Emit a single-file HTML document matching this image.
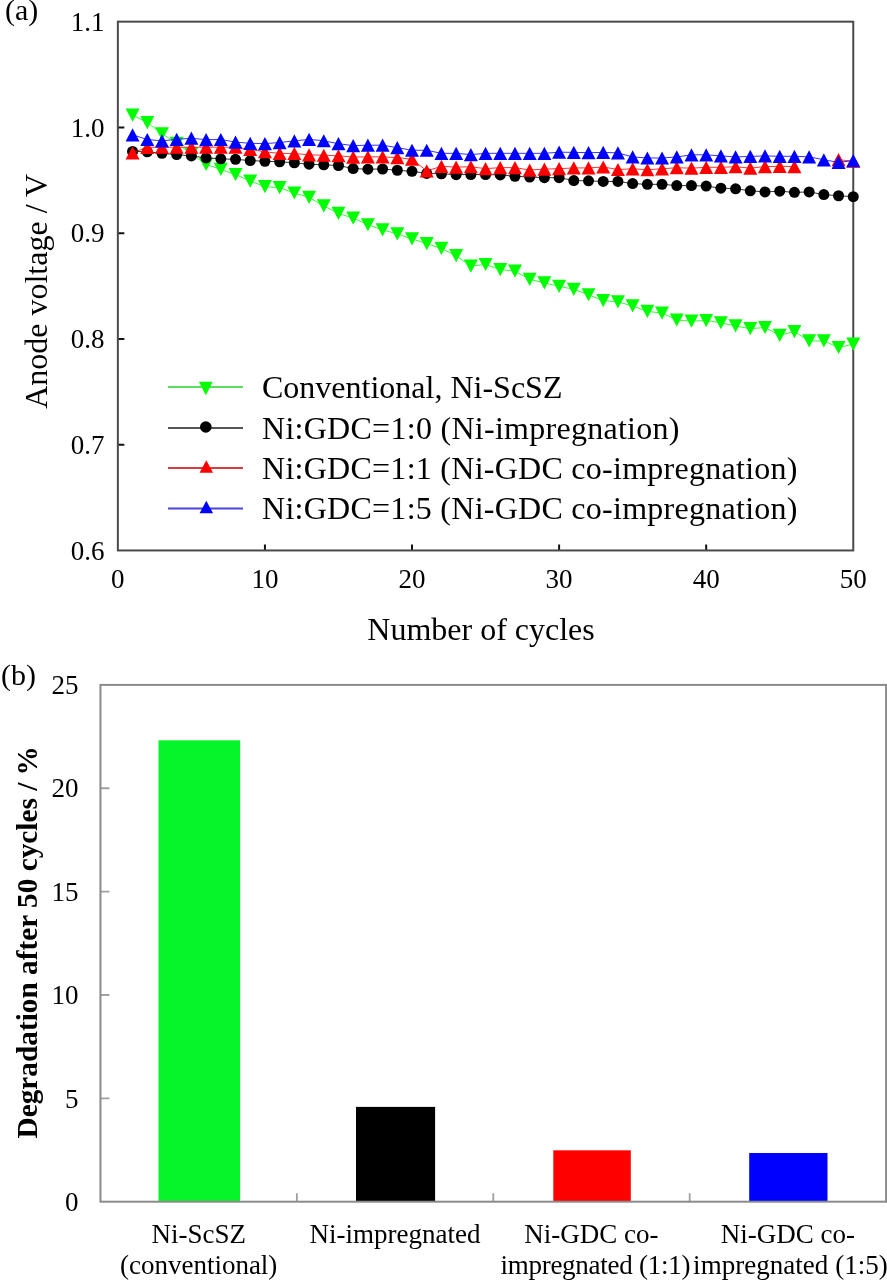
<!DOCTYPE html>
<html><head><meta charset="utf-8"><style>
html,body{margin:0;padding:0;background:#fff;width:887px;height:1280px;overflow:hidden;}
svg{display:block;font-family:"Liberation Serif",serif;will-change:transform;}
</style></head><body>
<svg width="887" height="1280" viewBox="0 0 887 1280">
<rect width="887" height="1280" fill="#fff"/>
<g font-family="Liberation Serif" fill="#000">
<text x="5" y="19.5" font-size="30">(a)</text>
<text x="104.5" y="30.87" font-size="27" text-anchor="end">1.1</text>
<text x="104.5" y="136.63" font-size="27" text-anchor="end">1.0</text>
<text x="104.5" y="242.39" font-size="27" text-anchor="end">0.9</text>
<text x="104.5" y="348.14" font-size="27" text-anchor="end">0.8</text>
<text x="104.5" y="453.90" font-size="27" text-anchor="end">0.7</text>
<text x="104.5" y="559.66" font-size="27" text-anchor="end">0.6</text>
<text x="117.85" y="587.5" font-size="27" text-anchor="middle">0</text>
<text x="264.93" y="587.5" font-size="27" text-anchor="middle">10</text>
<text x="412.01" y="587.5" font-size="27" text-anchor="middle">20</text>
<text x="559.10" y="587.5" font-size="27" text-anchor="middle">30</text>
<text x="706.18" y="587.5" font-size="27" text-anchor="middle">40</text>
<text x="853.26" y="587.5" font-size="27" text-anchor="middle">50</text>
<text x="481" y="639.7" font-size="32" text-anchor="middle">Number of cycles</text>
<text transform="translate(47 291.4) rotate(-90)" font-size="32" text-anchor="middle">Anode voltage / V</text>
</g>
<path d="M117.85 127.43h6.5M117.85 233.19h6.5M117.85 338.94h6.5M117.85 444.70h6.5M264.93 550.46v-6M412.01 550.46v-6M559.10 550.46v-6M706.18 550.46v-6" stroke="#111" stroke-width="2" fill="none"/>
<rect x="117.85" y="21.67" width="735.41" height="528.79" fill="none" stroke="#4a4a4a" stroke-width="2"/>
<polyline points="132.56,115.05 147.27,122.56 161.97,133.77 176.68,143.29 191.39,153.87 206.10,164.44 220.81,169.41 235.52,174.49 250.22,181.05 264.93,186.65 279.64,187.71 294.35,193.00 309.06,197.44 323.76,205.90 338.47,213.41 353.18,218.17 367.89,224.73 382.60,229.80 397.31,233.93 412.01,238.90 426.72,243.66 441.43,248.42 456.14,255.71 470.85,266.08 485.55,264.49 500.26,269.57 514.97,271.15 529.68,279.30 544.39,282.89 559.10,286.28 573.80,289.34 588.51,294.74 603.22,300.66 617.93,301.82 632.64,305.95 647.35,311.45 662.05,313.03 676.76,320.01 691.47,321.18 706.18,320.54 720.89,322.76 735.59,325.94 750.30,328.69 765.01,327.52 779.72,335.35 794.43,331.54 809.14,340.95 823.84,340.95 838.55,347.51 853.26,344.13" fill="none" stroke="#00ff00" stroke-width="0.8"/><path d="M125.56 108.45L132.56 121.65L139.56 108.45ZM140.27 115.96L147.27 129.16L154.27 115.96ZM154.97 127.17L161.97 140.37L168.97 127.17ZM169.68 136.69L176.68 149.89L183.68 136.69ZM184.39 147.27L191.39 160.47L198.39 147.27ZM199.10 157.84L206.10 171.04L213.10 157.84ZM213.81 162.81L220.81 176.01L227.81 162.81ZM228.52 167.89L235.52 181.09L242.52 167.89ZM243.22 174.45L250.22 187.65L257.22 174.45ZM257.93 180.05L264.93 193.25L271.93 180.05ZM272.64 181.11L279.64 194.31L286.64 181.11ZM287.35 186.40L294.35 199.60L301.35 186.40ZM302.06 190.84L309.06 204.04L316.06 190.84ZM316.76 199.30L323.76 212.50L330.76 199.30ZM331.47 206.81L338.47 220.01L345.47 206.81ZM346.18 211.57L353.18 224.77L360.18 211.57ZM360.89 218.13L367.89 231.33L374.89 218.13ZM375.60 223.20L382.60 236.40L389.60 223.20ZM390.31 227.33L397.31 240.53L404.31 227.33ZM405.01 232.30L412.01 245.50L419.01 232.30ZM419.72 237.06L426.72 250.26L433.72 237.06ZM434.43 241.82L441.43 255.02L448.43 241.82ZM449.14 249.11L456.14 262.31L463.14 249.11ZM463.85 259.48L470.85 272.68L477.85 259.48ZM478.55 257.89L485.55 271.09L492.55 257.89ZM493.26 262.97L500.26 276.17L507.26 262.97ZM507.97 264.55L514.97 277.75L521.97 264.55ZM522.68 272.70L529.68 285.90L536.68 272.70ZM537.39 276.29L544.39 289.49L551.39 276.29ZM552.10 279.68L559.10 292.88L566.10 279.68ZM566.80 282.74L573.80 295.94L580.80 282.74ZM581.51 288.14L588.51 301.34L595.51 288.14ZM596.22 294.06L603.22 307.26L610.22 294.06ZM610.93 295.22L617.93 308.42L624.93 295.22ZM625.64 299.35L632.64 312.55L639.64 299.35ZM640.35 304.85L647.35 318.05L654.35 304.85ZM655.05 306.43L662.05 319.63L669.05 306.43ZM669.76 313.41L676.76 326.61L683.76 313.41ZM684.47 314.58L691.47 327.78L698.47 314.58ZM699.18 313.94L706.18 327.14L713.18 313.94ZM713.89 316.16L720.89 329.36L727.89 316.16ZM728.59 319.34L735.59 332.54L742.59 319.34ZM743.30 322.09L750.30 335.29L757.30 322.09ZM758.01 320.92L765.01 334.12L772.01 320.92ZM772.72 328.75L779.72 341.95L786.72 328.75ZM787.43 324.94L794.43 338.14L801.43 324.94ZM802.14 334.35L809.14 347.55L816.14 334.35ZM816.84 334.35L823.84 347.55L830.84 334.35ZM831.55 340.91L838.55 354.11L845.55 340.91ZM846.26 337.53L853.26 350.73L860.26 337.53Z" fill="#00ff00"/>
<polyline points="132.56,151.44 147.27,151.75 161.97,153.34 176.68,154.61 191.39,155.98 206.10,157.89 220.81,158.84 235.52,159.37 250.22,160.53 264.93,161.27 279.64,161.80 294.35,162.75 309.06,164.23 323.76,164.87 338.47,165.50 353.18,168.57 367.89,169.20 382.60,168.99 397.31,170.26 412.01,171.32 426.72,173.43 441.43,173.75 456.14,174.70 470.85,174.49 485.55,174.49 500.26,174.91 514.97,176.29 529.68,177.03 544.39,177.66 559.10,177.66 573.80,180.52 588.51,180.84 603.22,181.47 617.93,181.47 632.64,183.59 647.35,184.33 662.05,184.33 676.76,185.59 691.47,185.59 706.18,186.12 720.89,188.13 735.59,188.77 750.30,190.78 765.01,191.94 779.72,191.20 794.43,192.36 809.14,191.94 823.84,194.58 838.55,195.75 853.26,196.70" fill="none" stroke="#000000" stroke-width="0.8"/><circle cx="132.56" cy="151.44" r="5.5" fill="#000000"/><circle cx="147.27" cy="151.75" r="5.5" fill="#000000"/><circle cx="161.97" cy="153.34" r="5.5" fill="#000000"/><circle cx="176.68" cy="154.61" r="5.5" fill="#000000"/><circle cx="191.39" cy="155.98" r="5.5" fill="#000000"/><circle cx="206.10" cy="157.89" r="5.5" fill="#000000"/><circle cx="220.81" cy="158.84" r="5.5" fill="#000000"/><circle cx="235.52" cy="159.37" r="5.5" fill="#000000"/><circle cx="250.22" cy="160.53" r="5.5" fill="#000000"/><circle cx="264.93" cy="161.27" r="5.5" fill="#000000"/><circle cx="279.64" cy="161.80" r="5.5" fill="#000000"/><circle cx="294.35" cy="162.75" r="5.5" fill="#000000"/><circle cx="309.06" cy="164.23" r="5.5" fill="#000000"/><circle cx="323.76" cy="164.87" r="5.5" fill="#000000"/><circle cx="338.47" cy="165.50" r="5.5" fill="#000000"/><circle cx="353.18" cy="168.57" r="5.5" fill="#000000"/><circle cx="367.89" cy="169.20" r="5.5" fill="#000000"/><circle cx="382.60" cy="168.99" r="5.5" fill="#000000"/><circle cx="397.31" cy="170.26" r="5.5" fill="#000000"/><circle cx="412.01" cy="171.32" r="5.5" fill="#000000"/><circle cx="426.72" cy="173.43" r="5.5" fill="#000000"/><circle cx="441.43" cy="173.75" r="5.5" fill="#000000"/><circle cx="456.14" cy="174.70" r="5.5" fill="#000000"/><circle cx="470.85" cy="174.49" r="5.5" fill="#000000"/><circle cx="485.55" cy="174.49" r="5.5" fill="#000000"/><circle cx="500.26" cy="174.91" r="5.5" fill="#000000"/><circle cx="514.97" cy="176.29" r="5.5" fill="#000000"/><circle cx="529.68" cy="177.03" r="5.5" fill="#000000"/><circle cx="544.39" cy="177.66" r="5.5" fill="#000000"/><circle cx="559.10" cy="177.66" r="5.5" fill="#000000"/><circle cx="573.80" cy="180.52" r="5.5" fill="#000000"/><circle cx="588.51" cy="180.84" r="5.5" fill="#000000"/><circle cx="603.22" cy="181.47" r="5.5" fill="#000000"/><circle cx="617.93" cy="181.47" r="5.5" fill="#000000"/><circle cx="632.64" cy="183.59" r="5.5" fill="#000000"/><circle cx="647.35" cy="184.33" r="5.5" fill="#000000"/><circle cx="662.05" cy="184.33" r="5.5" fill="#000000"/><circle cx="676.76" cy="185.59" r="5.5" fill="#000000"/><circle cx="691.47" cy="185.59" r="5.5" fill="#000000"/><circle cx="706.18" cy="186.12" r="5.5" fill="#000000"/><circle cx="720.89" cy="188.13" r="5.5" fill="#000000"/><circle cx="735.59" cy="188.77" r="5.5" fill="#000000"/><circle cx="750.30" cy="190.78" r="5.5" fill="#000000"/><circle cx="765.01" cy="191.94" r="5.5" fill="#000000"/><circle cx="779.72" cy="191.20" r="5.5" fill="#000000"/><circle cx="794.43" cy="192.36" r="5.5" fill="#000000"/><circle cx="809.14" cy="191.94" r="5.5" fill="#000000"/><circle cx="823.84" cy="194.58" r="5.5" fill="#000000"/><circle cx="838.55" cy="195.75" r="5.5" fill="#000000"/><circle cx="853.26" cy="196.70" r="5.5" fill="#000000"/>
<polyline points="132.56,152.81 147.27,147.31 161.97,147.20 176.68,147.20 191.39,147.20 206.10,147.20 220.81,147.20 235.52,147.20 250.22,149.43 264.93,151.75 279.64,153.44 294.35,153.44 309.06,154.82 323.76,155.24 338.47,155.77 353.18,157.04 367.89,156.83 382.60,156.83 397.31,157.67 412.01,159.16 426.72,170.89 441.43,166.35 456.14,167.09 470.85,166.77 485.55,168.67 500.26,167.62 514.97,167.62 529.68,170.05 544.39,169.10 559.10,168.67 573.80,167.93 588.51,167.93 603.22,166.98 617.93,169.52 632.64,168.78 647.35,169.73 662.05,168.78 676.76,167.72 691.47,168.14 706.18,167.30 720.89,167.30 735.59,166.77 750.30,168.14 765.01,166.56 779.72,166.35 794.43,166.56" fill="none" stroke="#ff0000" stroke-width="0.8"/><polyline points="838.55,159.68 853.26,161.27" fill="none" stroke="#ff0000" stroke-width="0.8"/><path d="M125.56 159.41L132.56 146.21L139.56 159.41ZM140.27 153.91L147.27 140.71L154.27 153.91ZM154.97 153.80L161.97 140.60L168.97 153.80ZM169.68 153.80L176.68 140.60L183.68 153.80ZM184.39 153.80L191.39 140.60L198.39 153.80ZM199.10 153.80L206.10 140.60L213.10 153.80ZM213.81 153.80L220.81 140.60L227.81 153.80ZM228.52 153.80L235.52 140.60L242.52 153.80ZM243.22 156.03L250.22 142.83L257.22 156.03ZM257.93 158.35L264.93 145.15L271.93 158.35ZM272.64 160.04L279.64 146.84L286.64 160.04ZM287.35 160.04L294.35 146.84L301.35 160.04ZM302.06 161.42L309.06 148.22L316.06 161.42ZM316.76 161.84L323.76 148.64L330.76 161.84ZM331.47 162.37L338.47 149.17L345.47 162.37ZM346.18 163.64L353.18 150.44L360.18 163.64ZM360.89 163.43L367.89 150.23L374.89 163.43ZM375.60 163.43L382.60 150.23L389.60 163.43ZM390.31 164.27L397.31 151.07L404.31 164.27ZM405.01 165.76L412.01 152.56L419.01 165.76ZM419.72 177.49L426.72 164.29L433.72 177.49ZM434.43 172.95L441.43 159.75L448.43 172.95ZM449.14 173.69L456.14 160.49L463.14 173.69ZM463.85 173.37L470.85 160.17L477.85 173.37ZM478.55 175.27L485.55 162.07L492.55 175.27ZM493.26 174.22L500.26 161.02L507.26 174.22ZM507.97 174.22L514.97 161.02L521.97 174.22ZM522.68 176.65L529.68 163.45L536.68 176.65ZM537.39 175.70L544.39 162.50L551.39 175.70ZM552.10 175.27L559.10 162.07L566.10 175.27ZM566.80 174.53L573.80 161.33L580.80 174.53ZM581.51 174.53L588.51 161.33L595.51 174.53ZM596.22 173.58L603.22 160.38L610.22 173.58ZM610.93 176.12L617.93 162.92L624.93 176.12ZM625.64 175.38L632.64 162.18L639.64 175.38ZM640.35 176.33L647.35 163.13L654.35 176.33ZM655.05 175.38L662.05 162.18L669.05 175.38ZM669.76 174.32L676.76 161.12L683.76 174.32ZM684.47 174.74L691.47 161.54L698.47 174.74ZM699.18 173.90L706.18 160.70L713.18 173.90ZM713.89 173.90L720.89 160.70L727.89 173.90ZM728.59 173.37L735.59 160.17L742.59 173.37ZM743.30 174.74L750.30 161.54L757.30 174.74ZM758.01 173.16L765.01 159.96L772.01 173.16ZM772.72 172.95L779.72 159.75L786.72 172.95ZM787.43 173.16L794.43 159.96L801.43 173.16ZM831.55 166.28L838.55 153.08L845.55 166.28ZM846.26 167.87L853.26 154.67L860.26 167.87Z" fill="#ff0000"/>
<polyline points="132.56,134.83 147.27,139.48 161.97,140.86 176.68,139.38 191.39,138.22 206.10,139.70 220.81,139.48 235.52,142.13 250.22,143.29 264.93,143.61 279.64,142.55 294.35,140.86 309.06,139.38 323.76,140.75 338.47,143.71 353.18,145.62 367.89,145.20 382.60,145.20 397.31,147.63 412.01,150.27 426.72,150.27 441.43,153.34 456.14,153.34 470.85,154.61 485.55,153.34 500.26,153.34 514.97,153.34 529.68,153.34 544.39,153.34 559.10,152.18 573.80,152.39 588.51,152.70 603.22,152.39 617.93,152.92 632.64,156.93 647.35,157.99 662.05,157.99 676.76,156.93 691.47,154.82 706.18,154.82 720.89,155.88 735.59,156.93 750.30,156.41 765.01,155.88 779.72,156.30 794.43,156.30 809.14,156.83 823.84,159.79 838.55,162.33 853.26,160.64" fill="none" stroke="#0000ff" stroke-width="0.8"/><path d="M125.56 141.43L132.56 128.23L139.56 141.43ZM140.27 146.08L147.27 132.88L154.27 146.08ZM154.97 147.46L161.97 134.26L168.97 147.46ZM169.68 145.98L176.68 132.78L183.68 145.98ZM184.39 144.82L191.39 131.62L198.39 144.82ZM199.10 146.30L206.10 133.10L213.10 146.30ZM213.81 146.08L220.81 132.88L227.81 146.08ZM228.52 148.73L235.52 135.53L242.52 148.73ZM243.22 149.89L250.22 136.69L257.22 149.89ZM257.93 150.21L264.93 137.01L271.93 150.21ZM272.64 149.15L279.64 135.95L286.64 149.15ZM287.35 147.46L294.35 134.26L301.35 147.46ZM302.06 145.98L309.06 132.78L316.06 145.98ZM316.76 147.35L323.76 134.15L330.76 147.35ZM331.47 150.31L338.47 137.11L345.47 150.31ZM346.18 152.22L353.18 139.02L360.18 152.22ZM360.89 151.80L367.89 138.60L374.89 151.80ZM375.60 151.80L382.60 138.60L389.60 151.80ZM390.31 154.23L397.31 141.03L404.31 154.23ZM405.01 156.87L412.01 143.67L419.01 156.87ZM419.72 156.87L426.72 143.67L433.72 156.87ZM434.43 159.94L441.43 146.74L448.43 159.94ZM449.14 159.94L456.14 146.74L463.14 159.94ZM463.85 161.21L470.85 148.01L477.85 161.21ZM478.55 159.94L485.55 146.74L492.55 159.94ZM493.26 159.94L500.26 146.74L507.26 159.94ZM507.97 159.94L514.97 146.74L521.97 159.94ZM522.68 159.94L529.68 146.74L536.68 159.94ZM537.39 159.94L544.39 146.74L551.39 159.94ZM552.10 158.78L559.10 145.58L566.10 158.78ZM566.80 158.99L573.80 145.79L580.80 158.99ZM581.51 159.30L588.51 146.10L595.51 159.30ZM596.22 158.99L603.22 145.79L610.22 158.99ZM610.93 159.52L617.93 146.32L624.93 159.52ZM625.64 163.53L632.64 150.33L639.64 163.53ZM640.35 164.59L647.35 151.39L654.35 164.59ZM655.05 164.59L662.05 151.39L669.05 164.59ZM669.76 163.53L676.76 150.33L683.76 163.53ZM684.47 161.42L691.47 148.22L698.47 161.42ZM699.18 161.42L706.18 148.22L713.18 161.42ZM713.89 162.48L720.89 149.28L727.89 162.48ZM728.59 163.53L735.59 150.33L742.59 163.53ZM743.30 163.01L750.30 149.81L757.30 163.01ZM758.01 162.48L765.01 149.28L772.01 162.48ZM772.72 162.90L779.72 149.70L786.72 162.90ZM787.43 162.90L794.43 149.70L801.43 162.90ZM802.14 163.43L809.14 150.23L816.14 163.43ZM816.84 166.39L823.84 153.19L830.84 166.39ZM831.55 168.93L838.55 155.73L845.55 168.93ZM846.26 167.24L853.26 154.04L860.26 167.24Z" fill="#0000ff"/>
<line x1="168" y1="387.0" x2="243" y2="387.0" stroke="#5ede5e" stroke-width="2"/>
<path d="M198.85 381.75L205.80 395.25L212.75 381.75Z" fill="#00ff00"/>
<text x="262" y="397.80" font-family="Liberation Serif" font-size="32">Conventional, Ni-ScSZ</text>
<line x1="168" y1="428.0" x2="243" y2="428.0" stroke="#555" stroke-width="2"/>
<circle cx="205.8" cy="427.0" r="5.8" fill="#000000"/>
<text x="262" y="438.80" font-family="Liberation Serif" font-size="32" textLength="417.5" lengthAdjust="spacing">Ni:GDC=1:0 (Ni-impregnation)</text>
<line x1="168" y1="468.0" x2="243" y2="468.0" stroke="#d83a44" stroke-width="2"/>
<path d="M199.55 472.85L206.30 460.15L213.05 472.85Z" fill="#ff0000"/>
<text x="262" y="478.80" font-family="Liberation Serif" font-size="32" textLength="535.5" lengthAdjust="spacing">Ni:GDC=1:1 (Ni-GDC co-impregnation)</text>
<line x1="168" y1="508.5" x2="243" y2="508.5" stroke="#4a44dc" stroke-width="2"/>
<path d="M199.55 513.35L206.30 500.65L213.05 513.35Z" fill="#0000ff"/>
<text x="262" y="519.30" font-family="Liberation Serif" font-size="32" textLength="535.5" lengthAdjust="spacing">Ni:GDC=1:5 (Ni-GDC co-impregnation)</text>
<g font-family="Liberation Serif" fill="#000">
<text x="1" y="685.3" font-size="30">(b)</text>
<text x="78.5" y="694.10" font-size="27" text-anchor="end">25</text>
<text x="78.5" y="797.46" font-size="27" text-anchor="end">20</text>
<text x="78.5" y="900.82" font-size="27" text-anchor="end">15</text>
<text x="78.5" y="1004.18" font-size="27" text-anchor="end">10</text>
<text x="78.5" y="1107.54" font-size="27" text-anchor="end">5</text>
<text x="78.5" y="1210.90" font-size="27" text-anchor="end">0</text>
<text transform="translate(36.6 942.3) rotate(-90)" font-size="29.3" font-weight="bold" text-anchor="middle">Degradation after 50 cycles / %</text>
<text x="198.66" y="1243.1" font-size="27" text-anchor="middle">Ni-ScSZ</text>
<text x="198.66" y="1273.5" font-size="27" text-anchor="middle">(conventional)</text>
<text x="395.07" y="1243.1" font-size="27" text-anchor="middle">Ni-impregnated</text>
<text x="591.49" y="1243.1" font-size="27" text-anchor="middle">Ni-GDC co-</text>
<text x="500.40" y="1273.5" font-size="27" textLength="190.1" lengthAdjust="spacing">impregnated (1:1)</text>
<text x="787.89" y="1243.1" font-size="27" text-anchor="middle">Ni-GDC co-</text>
<text x="693.10" y="1273.5" font-size="27" textLength="194.7" lengthAdjust="spacing">impregnated (1:5)</text>
</g>
<rect x="158.5" y="740.3" width="81.60" height="461.40" fill="#05f52a"/>
<rect x="356" y="1106.9" width="79.10" height="94.80" fill="#000"/>
<rect x="553.3" y="1150.3" width="77.50" height="51.40" fill="#ff0000"/>
<rect x="749.2" y="1153" width="78.30" height="48.70" fill="#0000ff"/>
<path d="M100.46 1098.34h9M100.46 994.98h9M100.46 891.62h9M100.46 788.26h9M296.87 1201.70v-8.5M493.28 1201.70v-8.5M689.69 1201.70v-8.5" stroke="#a0a0a0" stroke-width="1.8" fill="none"/>
<rect x="100.46" y="684.90" width="785.64" height="516.80" fill="none" stroke="#8a8a8a" stroke-width="2"/>
</svg>
</body></html>
